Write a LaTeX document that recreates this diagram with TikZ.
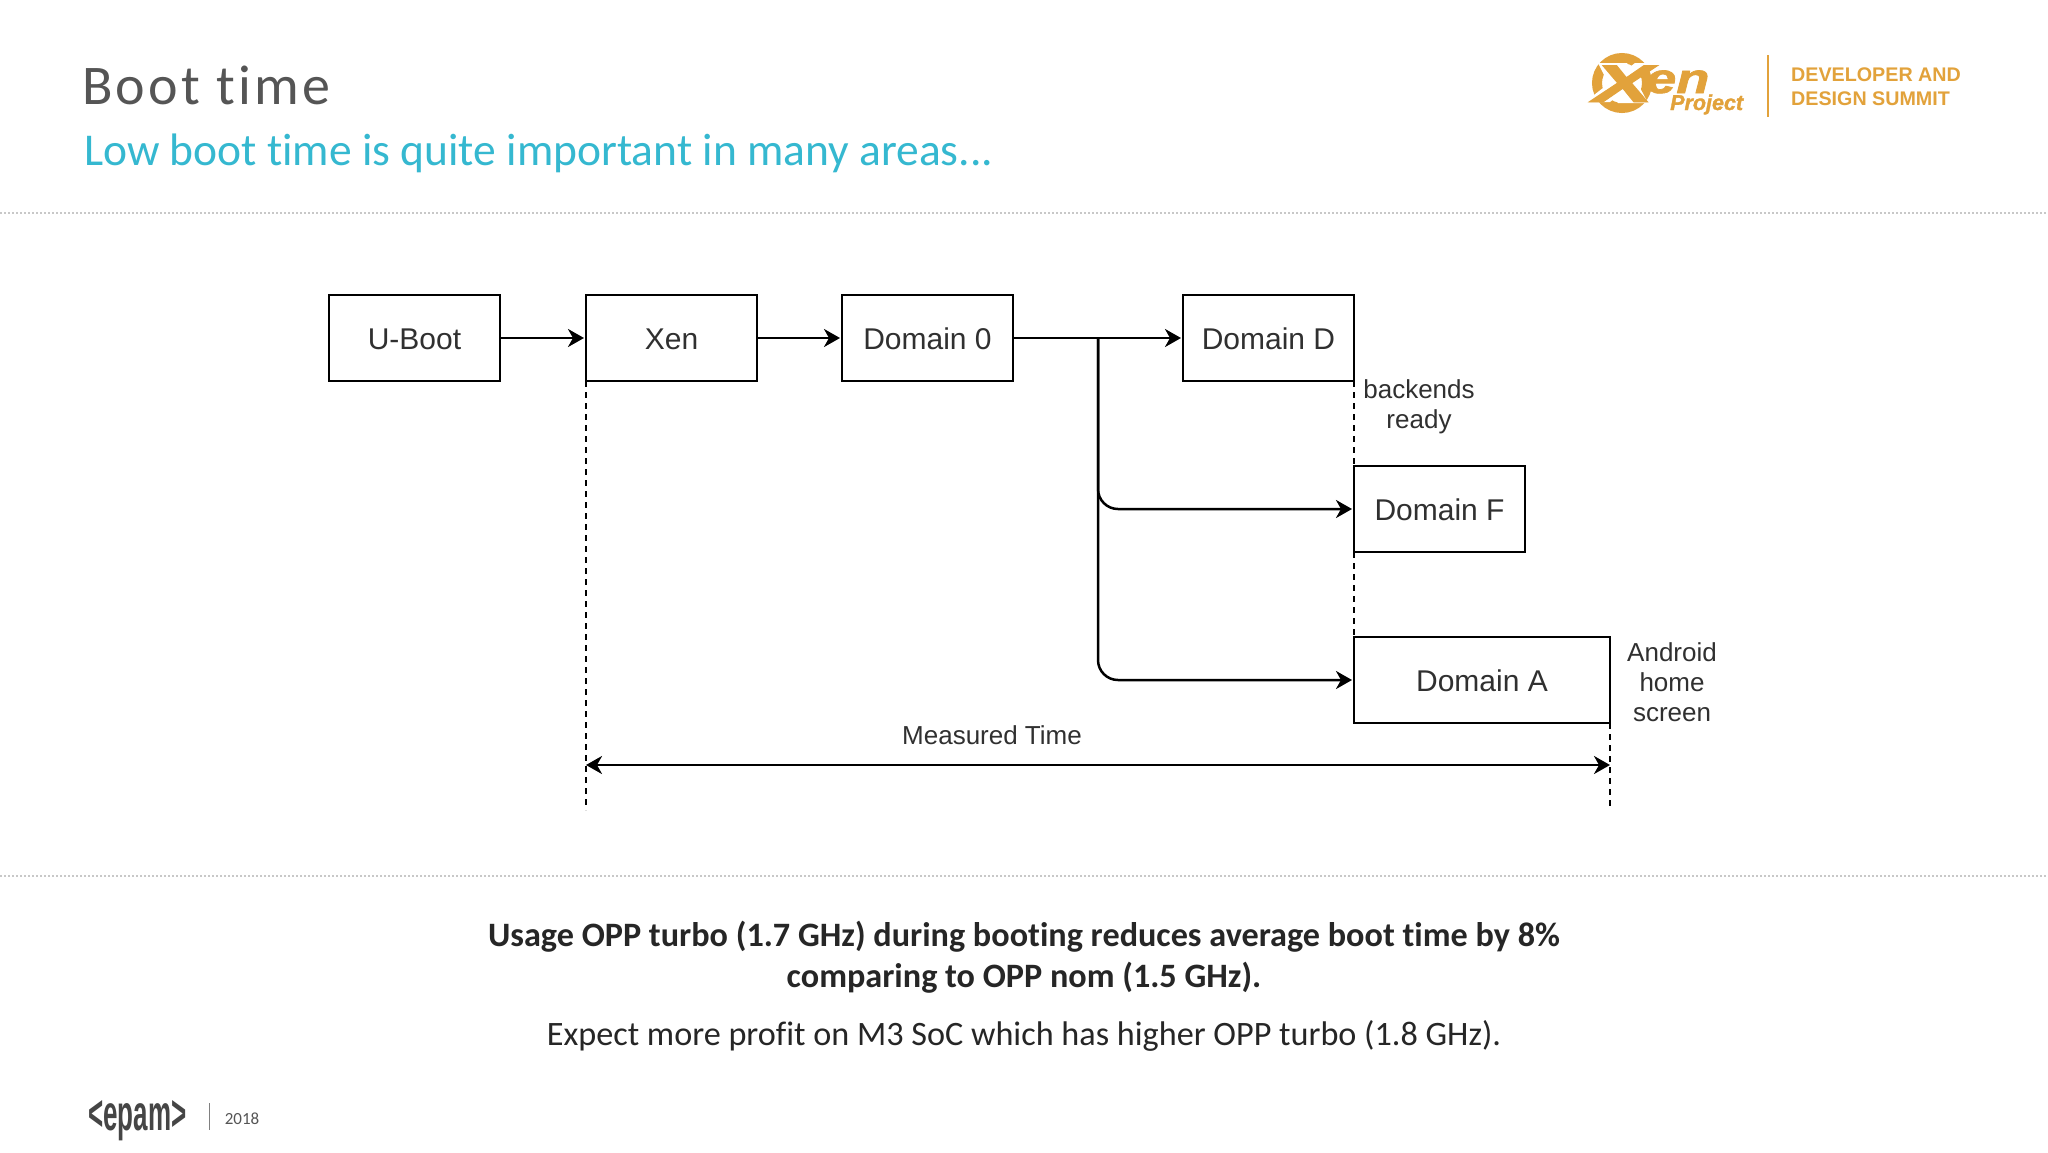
\documentclass[tikz,border=0pt]{standalone}
\usepackage{fontspec}
\usepackage{graphicx}
\setmainfont{Carlito}[Ligatures=NoCommon]
\newfontfamily\arialf{Liberation Sans}
\newfontfamily\xenf[FakeBold=1.5]{Liberation Sans Bold Italic}
\usetikzlibrary{arrows.meta}
\definecolor{xenor}{HTML}{E2A23B}
\definecolor{cyantxt}{HTML}{35B8D0}
\definecolor{titlegray}{HTML}{555555}
\definecolor{epamgray}{HTML}{454545}
\definecolor{bodytxt}{HTML}{262626}
\definecolor{rulegray}{HTML}{C8C8C8}
\definecolor{diagtxt}{HTML}{303030}
\newcommand{\fs}[1]{\fontsize{#1}{#1}\selectfont}
\tikzset{
  box/.style={draw=black,line width=2pt,outer sep=0pt,minimum width=171pt,minimum height=86pt,inner sep=0pt,text=diagtxt,text height=23pt,text depth=0pt,font=\arialf\fs{30}},
  lbl/.style={text=diagtxt,font=\arialf\fontsize{26}{30}\selectfont,align=center,inner sep=0pt},
  conn/.style={line width=2.5pt,draw=black,shorten >=2pt,-{Stealth[length=16pt,width=18pt,inset=5pt]}},
  dashline/.style={line width=2pt,draw=black,dash pattern=on 6pt off 5pt},
  sepline/.style={line width=2pt,draw=rulegray,dash pattern=on 2pt off 2pt},
}
\begin{document}
\begin{tikzpicture}[x=1pt,y=-1pt]
\useasboundingbox[fill=white] (0,0) rectangle (2048,1152);
% header
\node[anchor=base west,inner sep=0pt,text=titlegray,font=\fs{56}] (title) at (82,104) {\addfontfeature{LetterSpace=6}Boot time};
\node[anchor=base west,inner sep=0pt,text=cyantxt,font=\fs{45.5}] (sub) at (84,165) {Low boot time is quite important in many areas...};
\coordinate (s1a) at (0,213); \coordinate (s1b) at (2048,213);
\coordinate (s2a) at (0,876); \coordinate (s2b) at (2048,876);
\draw[sepline] (s1a) -- (s1b);
\draw[sepline] (s2a) -- (s2b);
% logo
\draw[xenor,line width=10pt] (1622,83) circle (25pt);
\fill[white] (1598,63) -- (1627,63) -- (1648,103) -- (1618,103) -- cycle;
\fill[white] (1658,63) -- (1635,63) -- (1585,102) -- (1610,102) -- cycle;
\node[anchor=base west,inner sep=0pt,text=xenor,font=\xenf\fs{53}] (xlogo) at (1593,102) {\scalebox{1.7}[1]{X}};
\node[anchor=base west,inner sep=0pt,text=xenor,font=\xenf\fs{42}] (enlogo) at (1646,93) {\scalebox{1.29}[1]{en}};
\node[anchor=base west,inner sep=0pt,text=xenor,font=\xenf\fs{21.5}] (prlogo) at (1670,110) {Project};
\coordinate (va) at (1768,55); \coordinate (vb) at (1768,117);
\draw[xenor,line width=1.5pt] (va) -- (vb);
\node[anchor=base west,inner sep=0pt,text=xenor,font=\arialf\bfseries\fs{19.7}] (dev1) at (1791,81) {DEVELOPER AND};
\node[anchor=base west,inner sep=0pt,text=xenor,font=\arialf\bfseries\fs{19.7}] (dev2) at (1791,105) {DESIGN SUMMIT};
% boxes
\node[box] (uboot) at (414.5,338) {U-Boot};
\node[box] (xen) at (671.5,338) {Xen};
\node[box] (dom0) at (927.5,338) {Domain 0};
\node[box] (domd) at (1268.5,338) {Domain D};
\node[box] (domf) at (1439.5,509) {Domain F};
\node[box,minimum width=256pt] (doma) at (1482,680) {Domain A};
% connectors
\coordinate (j) at (1098,338);
\draw[conn] (uboot) -- (xen);
\draw[conn] (xen) -- (dom0);
\draw[conn] (dom0) -- (domd);
\draw[conn,rounded corners=20pt] (j) |- (domf.west);
\draw[conn,rounded corners=20pt] (j) |- (doma.west);
% dashed
\coordinate (xd) at (586,810);
\coordinate (ad) at (1610,810);
\draw[dashline] (xen.south west) -- (xd);
\draw[dashline] (doma.south east) -- (ad);
\draw[dashline] (domd.south east) -- (domf.north west);
\draw[dashline] (domf.south west) -- (doma.north west);
\coordinate (ml) at (586,765);
\coordinate (mr) at (1610,765);
\draw[line width=2.5pt,{Stealth[length=16pt,width=18pt,inset=5pt]}-{Stealth[length=16pt,width=18pt,inset=5pt]}] (ml) -- (mr);
% labels
\node[lbl] (back) at (1419,406.5) {backends\\ready};
\node[lbl] (andr) at (1672,682) {Android\\home\\screen};
\node[lbl] (meas) at (992,735) {Measured Time};
% bottom text
\node[inner sep=0pt,align=center,text=bodytxt,font=\bfseries\fontsize{34.2}{41}\selectfont] (b1) at (1024,957) {Usage OPP turbo (1.7 GHz) during booting reduces average boot time by 8\%\\comparing to OPP nom (1.5 GHz).};
\node[inner sep=0pt,text=bodytxt,font=\fs{34.2}] (b2) at (1024,1036) {Expect more profit on M3 SoC which has higher OPP turbo (1.8 GHz).};
% footer
\node[anchor=base,inner sep=0pt,text=epamgray,font=\arialf\bfseries\fs{50}] (epam) at (137.5,1130) {\scalebox{0.52}[1]{<epam>}};
\coordinate (fa) at (209,1103); \coordinate (fb) at (209,1130);
\draw[gray,line width=1pt] (fa) -- (fb);
\node[inner sep=0pt,text=titlegray,font=\fs{17}] (yr) at (242,1119) {2018};
\end{tikzpicture}
\end{document}
